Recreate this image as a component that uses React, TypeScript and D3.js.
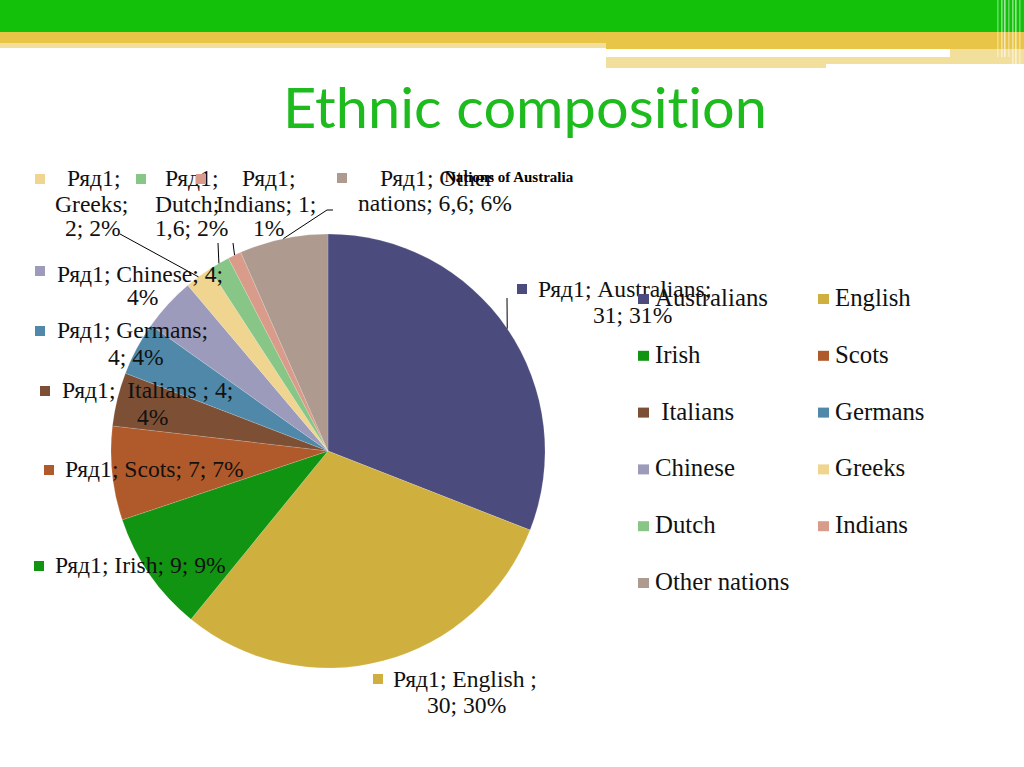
import React from "react";
import * as d3 from "d3";

const categories = ["Australians", "English", "Irish", "Scots", "Italians", "Germans", "Chinese", "Greeks", "Dutch", "Indians", "Other nations"];
const values = [31, 30, 9, 7, 4, 4, 4, 2, 1.6, 1, 6.6];
const seriesName = "Ряд1";
const colors = ["#4B4B7E", "#CFB03F", "#119411", "#B0592A", "#7D5036", "#4F88A8", "#9C9BBB", "#EFD590", "#88C688", "#D99C8B", "#AE9A8F"];
const legendNames = ["Australians", "English", "Irish", "Scots", " Italians", "Germans", "Chinese", "Greeks", "Dutch", "Indians", "Other nations"];

// label layout: square top-left, lines (text, x, baseline)
const labelLayout: any = {
  Australians: { sq: [517, 284], lines: [[`${seriesName}; Australians;`, 538, 297], ["31; 31%", 593, 323]], leader: [[507, 298]] },
  English: { sq: [373, 674], lines: [[`${seriesName}; English ;`, 393, 687], ["30; 30%", 427, 713]] },
  Irish: { sq: [34, 561], lines: [[`${seriesName}; Irish; 9; 9%`, 55, 573]] },
  Scots: { sq: [44, 465], lines: [[`${seriesName}; Scots; 7; 7%`, 65, 477]] },
  Italians: { sq: [40, 386], lines: [[`${seriesName};  Italians ; 4;`, 62, 398], ["4%", 137, 425]] },
  Germans: { sq: [35, 326], lines: [[`${seriesName}; Germans;`, 57, 338], ["4; 4%", 108, 365]] },
  Chinese: { sq: [35, 266], lines: [[`${seriesName}; Chinese; 4;`, 57, 282], ["4%", 127, 305]] },
  Greeks: { sq: [35, 174], lines: [[`${seriesName};`, 67, 186], ["Greeks;", 55, 212], ["2; 2%", 65, 236]], leader: [[120, 234]] },
  Dutch: { sq: [136, 174], lines: [[`${seriesName};`, 165, 186], ["Dutch;", 155, 212], ["1,6; 2%", 155, 236]], leader: [[218, 243]] },
  Indians: { sq: [196, 174], lines: [[`${seriesName};`, 242, 186], ["Indians; 1;", 216, 212], ["1%", 253, 236]], leader: [[233, 243]] },
  "Other nations": { sq: [337, 173], lines: [[`${seriesName}; Other`, 380, 186], ["nations; 6,6; 6%", 358, 211]], leader: [[333, 210], [327, 210]] },
};

const W = 1024;
const H = 767;
const cx = 328;
const cy = 451;
const R = 217;
const serif = "'Liberation Serif', 'DejaVu Serif', serif";

export default function App() {
  const data = categories.map((c, i) => ({ name: c, value: values[i], color: colors[i], idx: i }));
  const pie = d3.pie<any>().sort(null).value((d: any) => d.value).startAngle(0).endAngle(2 * Math.PI);
  const arcs = pie(data);
  const arc = d3.arc<any>().innerRadius(0).outerRadius(R);
  const edgePoint = (a: any) => {
    const m = (a.startAngle + a.endAngle) / 2;
    return [cx + R * Math.sin(m), cy - R * Math.cos(m)];
  };

  const legendRow = d3.scaleBand<number>().domain(d3.range(6)).range([294, 294 + 6 * 56.8]);
  const legendCol = d3.scaleOrdinal<number, number>().domain([0, 1]).range([638, 818]);

  return (
    <svg width={W} height={H} style={{ position: "absolute", left: 0, top: 0, background: "#fff" }}>
      {/* header bands */}
      <rect x={0} y={0} width={W} height={32} fill="#13C10B" />
      <rect x={0} y={32} width={W} height={11} fill="#E8C547" />
      <rect x={0} y={43} width={606} height={5} fill="#F3DF9C" />
      <rect x={606} y={43} width={W - 606} height={6} fill="#E8C547" />
      <rect x={950} y={49} width={W - 950} height={8} fill="#F3DF9C" />
      <rect x={606} y={57} width={220} height={11} fill="#F3DF9C" />
      <rect x={826} y={57} width={198} height={7} fill="#F3DF9C" />
      {[997, 1001, 1004, 1008, 1012, 1015, 1019].map((x, i) => (
        <rect key={i} x={x} y={0} width={1.6} height={i > 3 ? 68 : 57} fill="#fff" opacity={0.35 + (i % 3) * 0.12} />
      ))}

      {/* title */}
      <text x={283} y={128} fontFamily="Lato, 'Open Sans', sans-serif" fontSize={56} fill="#1DBB1D" textLength={484} lengthAdjust="spacingAndGlyphs" style={{ fontVariantLigatures: "none", fontFeatureSettings: '"liga" 0, "clig" 0' }}>
        Ethnic composition
      </text>

      {/* pie */}
      <g transform={`translate(${cx},${cy})`}>
        {arcs.map((a, i) => (
          <path key={i} d={arc(a) as string} fill={a.data.color} stroke="#ffffff" strokeOpacity={0.25} strokeWidth={0.6} />
        ))}
      </g>

      {/* leader lines */}
      {arcs.map((a, i) => {
        const lay = labelLayout[a.data.name];
        if (!lay.leader) return null;
        const pts = [...lay.leader, edgePoint(a)];
        return <path key={i} d={d3.line()(pts as any) as string} fill="none" stroke="#000" strokeWidth={1} />;
      })}

      {/* data labels */}
      {arcs.map((a, i) => {
        const lay = labelLayout[a.data.name];
        return (
          <g key={i}>
            <rect x={lay.sq[0]} y={lay.sq[1]} width={10} height={10} fill={a.data.color} />
            {lay.lines.map((l: any, j: number) => (
              <text key={j} x={l[1]} y={l[2]} fontFamily={serif} fontSize={23.6} fill="#111" style={{ whiteSpace: "pre" }}>
                {l[0]}
              </text>
            ))}
          </g>
        );
      })}

      {/* chart title */}
      <text x={509} y={182} textAnchor="middle" fontFamily={serif} fontWeight="bold" fontSize={15} fill="#000">
        Nations of Australia
      </text>

      {/* legend */}
      {legendNames.map((n, i) => {
        const row = Math.floor(i / 2);
        const col = i % 2;
        const y = legendRow(row) as number;
        const x = legendCol(col);
        return (
          <g key={i}>
            <rect x={x} y={y} width={11} height={10} fill={colors[i]} />
            <text x={x + 17} y={y + 12} fontFamily={serif} fontSize={24.8} fill="#111" style={{ whiteSpace: "pre" }}>
              {n}
            </text>
          </g>
        );
      })}
    </svg>
  );
}
